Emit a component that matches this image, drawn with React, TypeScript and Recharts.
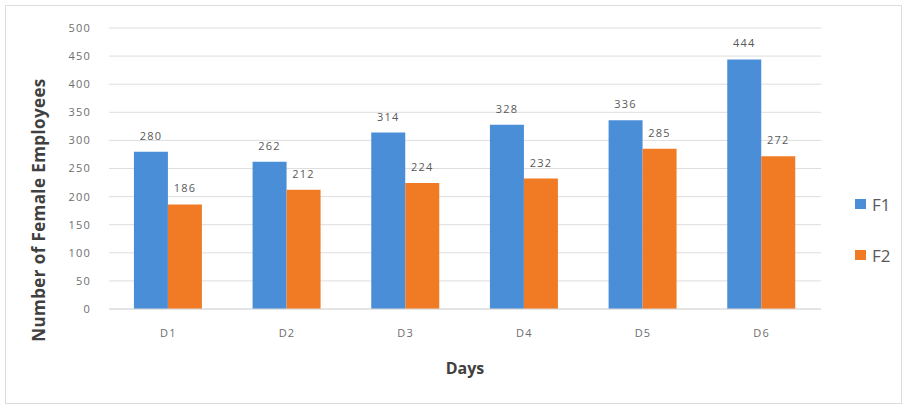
import React from 'react';
import {
  BarChart,
  Bar,
  XAxis,
  YAxis,
  CartesianGrid,
  LabelList,
} from 'recharts';

const days = ['D1', 'D2', 'D3', 'D4', 'D5', 'D6'];
const f1Values = [280, 262, 314, 328, 336, 444];
const f2Values = [186, 212, 224, 232, 285, 272];
const yTicks = [0, 50, 100, 150, 200, 250, 300, 350, 400, 450, 500];

const BLUE = '#4a8ed8';
const ORANGE = '#f07b24';
const FONT = '"Open Sans", Lato, sans-serif';

const chartData = days.map((day, i) => ({
  name: day,
  F1: f1Values[i],
  F2: f2Values[i],
}));

const seriesLegend = [
  { label: 'F1', color: BLUE },
  { label: 'F2', color: ORANGE },
];

const tickStyle = { fontSize: 11, fill: '#6e6e6e', fontFamily: FONT, letterSpacing: 1.2 };
const valueStyle = { fontSize: 11, fill: '#595959', fontFamily: FONT, letterSpacing: 1.2 };

export default function App() {
  return (
    <div
      style={{
        position: 'absolute',
        left: 0,
        top: 0,
        width: 907,
        height: 409,
        background: '#fff',
      }}
    >
      {/* outer chart frame */}
      <div
        style={{
          position: 'absolute',
          left: 5,
          top: 5,
          width: 895,
          height: 397,
          border: '1px solid #dcdcdc',
        }}
      />
      <div style={{ position: 'absolute', left: 0, top: 0 }}>
        <BarChart
          width={907}
          height={409}
          data={chartData}
          margin={{ top: 28, right: 86, left: 0, bottom: 0 }}
          barCategoryGap="21%"
          barGap={0}
        >
          <CartesianGrid vertical={false} stroke="#dedede" />
          <XAxis
            dataKey="name"
            height={100}
            tickLine={false}
            axisLine={{ stroke: '#d9d9d9' }}
            tickMargin={14}
            tick={tickStyle}
            label={{
              value: 'Days',
              position: 'insideBottom',
              offset: 35,
              style: { fontSize: 16, fontWeight: 700, fill: '#404040', fontFamily: FONT },
            }}
          />
          <YAxis
            width={109}
            domain={[0, 500]}
            ticks={yTicks}
            interval={0}
            tickLine={false}
            axisLine={false}
            tickMargin={12}
            tick={tickStyle}
            label={{
              content: () => (
                <text
                  x={38}
                  y={210}
                  transform="rotate(-90 38 210)"
                  textAnchor="middle"
                  dominantBaseline="central"
                  style={{
                    fontSize: 17,
                    fontWeight: 700,
                    fill: '#404040',
                    fontFamily: FONT,
                    letterSpacing: 0.4,
                  }}
                >
                  Number of Female Employees
                </text>
              ),
            }}
          />
          <Bar dataKey="F1" fill={BLUE} isAnimationActive={false}>
            <LabelList dataKey="F1" position="top" offset={12} style={valueStyle} />
          </Bar>
          <Bar dataKey="F2" fill={ORANGE} isAnimationActive={false}>
            <LabelList dataKey="F2" position="top" offset={12} style={valueStyle} />
          </Bar>
        </BarChart>
      </div>
      {/* legend */}
      <div style={{ position: 'absolute', left: 855, top: 191, fontFamily: FONT }}>
        {seriesLegend.map((item) => (
          <div
            key={item.label}
            style={{ display: 'flex', alignItems: 'center', height: 26, marginBottom: 25 }}
          >
            <span
              style={{
                width: 11,
                height: 10,
                background: item.color,
                display: 'inline-block',
                marginRight: 6,
              }}
            />
            <span style={{ fontSize: 17, color: '#595959' }}>{item.label}</span>
          </div>
        ))}
      </div>
    </div>
  );
}
